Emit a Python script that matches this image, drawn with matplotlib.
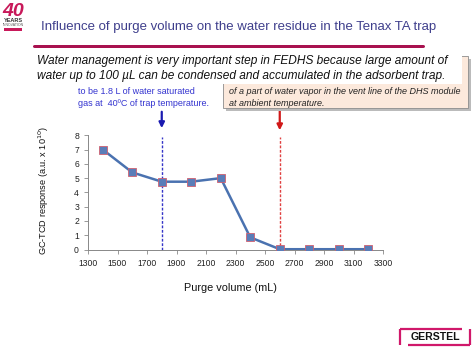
import matplotlib
matplotlib.use("Agg")
import matplotlib.pyplot as plt
from matplotlib.patches import FancyBboxPatch, Rectangle
from matplotlib.lines import Line2D

plt.rcParams['font.family'] = ['Liberation Sans', 'DejaVu Sans']

# Data
purge_volume = [1400, 1600, 1800, 2000, 2200, 2400, 2600, 2800, 3000, 3200]
response = [7.0, 5.4, 4.75, 4.75, 5.0, 0.85, 0.02, 0.02, 0.02, 0.02]
x_ticks = [1300, 1500, 1700, 1900, 2100, 2300, 2500, 2700, 2900, 3100, 3300]
y_ticks = [0, 1, 2, 3, 4, 5, 6, 7, 8]
blue_mark = 1800
red_mark = 2600

W, H = 474, 355
fig = plt.figure(figsize=(W / 100, H / 100), dpi=100)
fig.patch.set_facecolor('white')

def fx(px):
    return px / W

def fy(py):
    return 1 - py / H

# Logo top-left
fig.text(fx(13), fy(11), '40', fontsize=14, fontweight='bold', color='#C8195A',
         ha='center', va='center', style='italic')
fig.text(fx(13), fy(21), 'YEARS', fontsize=4, fontweight='bold', color='#333333',
         ha='center', va='center')
fig.text(fx(13), fy(25), 'INNOVATION', fontsize=2.5, color='#555555',
         ha='center', va='center')
fig.patches.append(Rectangle((fx(4), fy(31)), fx(18), 3 / H, transform=fig.transFigure,
                             facecolor='#C8195A', edgecolor='none'))

# Title
fig.text(fx(41), fy(27), 'Influence of purge volume on the water residue in the Tenax TA trap',
         fontsize=9.5, color='#3F3F8C', ha='left', va='center')

# Magenta bar
fig.patches.append(FancyBboxPatch((fx(33), fy(48)), fx(392), 3 / H,
                                  boxstyle='round,pad=0,rounding_size=0.004',
                                  transform=fig.transFigure, facecolor='#A8114F',
                                  edgecolor='none'))

# Pink box with shadow
fig.patches.append(Rectangle((fx(226), fy(111)), fx(245), 52 / H, transform=fig.transFigure,
                             facecolor='#BBBBBB', edgecolor='none', zorder=1))
fig.patches.append(Rectangle((fx(223), fy(108)), fx(245), 52 / H, transform=fig.transFigure,
                             facecolor='#FCE9DC', edgecolor='#8C8C8C', linewidth=0.6, zorder=2))
# white box behind the italic statement
fig.patches.append(Rectangle((fx(34), fy(84)), fx(428), 32 / H, transform=fig.transFigure,
                             facecolor='white', edgecolor='none', zorder=3))

fig.text(fx(37), fy(61), 'Water management is very important step in FEDHS because large amount of',
         fontsize=8.55, style='italic', color='#111111', ha='left', va='center', zorder=4)
fig.text(fx(37), fy(76), 'water up to 100 \u00b5L can be condensed and accumulated in the adsorbent trap.',
         fontsize=8.55, style='italic', color='#111111', ha='left', va='center', zorder=4)

fig.text(fx(229), fy(91), 'of a part of water vapor in the vent line of the DHS module',
         fontsize=6.5, style='italic', color='#222222', ha='left', va='center', zorder=4)
fig.text(fx(229), fy(103), 'at ambient temperature.',
         fontsize=6.5, style='italic', color='#222222', ha='left', va='center', zorder=4)

fig.text(fx(78), fy(91), 'to be 1.8 L of water saturated',
         fontsize=6.5, color='#3434D0', ha='left', va='center')
fig.text(fx(78), fy(103), 'gas at  40\u00baC of trap temperature.',
         fontsize=6.5, color='#3434D0', ha='left', va='center')

# Axes
ax = fig.add_axes([fx(88), fy(249.5), fx(383 - 88), (249.5 - 135.3) / H])
ax.plot(purge_volume, response, color='#4A72B0', linewidth=1.8, zorder=3)
ax.plot(purge_volume, response, linestyle='none', marker='s', markersize=5.8,
        markerfacecolor='#5A7DB8', markeredgecolor='#D06070', markeredgewidth=0.6, zorder=4)

ax.set_xlim(1300, 3300)
ax.set_ylim(0, 8)
ax.set_xticks(x_ticks)
ax.set_yticks(y_ticks)
ax.tick_params(axis='both', labelsize=6.2, colors='#222222', length=3, width=0.6,
               direction='out', color='#888888')
for s in ['top', 'right']:
    ax.spines[s].set_visible(False)
for s in ['left', 'bottom']:
    ax.spines[s].set_color('#888888')
    ax.spines[s].set_linewidth(0.7)

# dashed markers
ax.plot([blue_mark, blue_mark], [0, 7.9], linestyle=(0, (2, 1.2)), color='#3535C8',
        linewidth=1.0, clip_on=False, zorder=2)
ax.plot([red_mark, red_mark], [0, 7.9], linestyle=(0, (2, 1.2)), color='#E04040',
        linewidth=1.0, clip_on=False, zorder=2)

# arrows
ax.annotate('', xy=(blue_mark, 8.5), xytext=(blue_mark, 9.65), annotation_clip=False,
            arrowprops=dict(arrowstyle='-|>', color='#1A1AB0', lw=1.6, mutation_scale=8,
                            shrinkA=0, shrinkB=0))
ax.annotate('', xy=(red_mark, 8.35), xytext=(red_mark, 9.85), annotation_clip=False,
            arrowprops=dict(arrowstyle='-|>', color='#D01818', lw=1.6, mutation_scale=8,
                            shrinkA=0, shrinkB=0))

fig.text(fx(230), fy(288), 'Purge volume (mL)', fontsize=7.8, color='#111111',
         ha='center', va='center')
fig.text(fx(44), fy(190), 'GC-TCD response (a.u. x 10$^{10}$)', fontsize=6.6, color='#111111',
         ha='center', va='center', rotation=90)

# GERSTEL logo (bracket frame)
logo_col = '#D0186A'
for xs, ys in [((400, 400), (329, 345)), ((400, 462), (329, 329)),
               ((470, 470), (329, 345)), ((408, 470), (345, 345))]:
    fig.lines.append(Line2D([fx(v) for v in xs], [fy(v) for v in ys],
                            transform=fig.transFigure, color=logo_col, linewidth=1.6,
                            solid_capstyle='butt'))
fig.text(fx(435), fy(337), 'GERSTEL', fontsize=7.6, fontweight='bold', color='#111111',
         ha='center', va='center')

fig.savefig('out.png', dpi=100, facecolor='white')
